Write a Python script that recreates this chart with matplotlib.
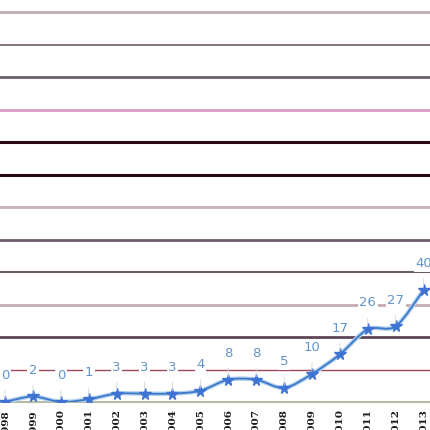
import numpy as np
import matplotlib
matplotlib.use("Agg")
import matplotlib.pyplot as plt
from matplotlib.path import Path
from matplotlib.patches import PathPatch

years = [1998, 1999, 2000, 2001, 2002, 2003, 2004, 2005,
         2006, 2007, 2008, 2009, 2010, 2011, 2012, 2013]
counts = [0, 2, 0, 1, 3, 3, 3, 4, 8, 8, 5, 10, 17, 26, 27, 40]

grid_step = 11.6
grid_colors = ["#9a4a5a", "#5e4658", "#c4acb4", "#6c5c6c", "#6c5c6c", "#c8b0b8",
               "#2a0818", "#2a0818", "#d89cc4", "#6c6070", "#6a5a64", "#c0aab4"]
grid_widths = [1.0, 2.0, 2.0, 1.5, 2.0, 2.0, 2.2, 2.2, 2.0, 2.0, 1.2, 2.0]

fig = plt.figure(figsize=(4.3, 4.3), dpi=100)
ax = fig.add_axes([0, 0.0651, 1, 0.9349])
ax.set_xlim(1997.82, 2013.23)
ax.set_ylim(0, 143.6)

for i, (c, w) in enumerate(zip(grid_colors, grid_widths)):
    ax.axhline(grid_step * (i + 1), color=c, lw=w, zorder=1)

# smoothed line (bezier through the points, like the office chart)
x = np.array(years, dtype=float)
y = np.array(counts, dtype=float)
verts = [(x[0], y[0])]
codes = [Path.MOVETO]
t = 1 / 7
for i in range(len(x) - 1):
    p0 = (x[max(i - 1, 0)], y[max(i - 1, 0)])
    p1 = (x[i], y[i])
    p2 = (x[i + 1], y[i + 1])
    p3 = (x[min(i + 2, len(x) - 1)], y[min(i + 2, len(x) - 1)])
    c1 = (p1[0] + (p2[0] - p0[0]) * t, p1[1] + (p2[1] - p0[1]) * t)
    c2 = (p2[0] - (p3[0] - p1[0]) * t, p2[1] - (p3[1] - p1[1]) * t)
    verts += [c1, c2, p2]
    codes += [Path.CURVE4] * 3
path = Path(verts, codes)
ax.add_patch(PathPatch(path, fc="none", ec="#b4d0f0", lw=3.2, zorder=3))
ax.add_patch(PathPatch(path, fc="none", ec="#3a78c8", lw=1.3, zorder=4))
ax.plot(years, counts, ls="none", marker="*", ms=8.5, color="#3f74d4",
        mec="#3f74d4", zorder=5)

for xv, yv in zip(years, counts):
    ax.annotate(str(yv), (xv, yv), xytext=(0, 19), textcoords="offset points",
                ha="center", va="center", fontsize=9.5, color="#6494c8",
                bbox=dict(boxstyle="square,pad=0.12", fc="white", ec="none"),
                arrowprops=dict(arrowstyle="-", color="#d4d4d4", lw=0.6,
                                shrinkA=5, shrinkB=2),
                zorder=6)

ax.set_xticks(years)
ax.set_xticklabels([str(v) for v in years], rotation=90, fontsize=7.5,
                   fontweight="bold", family="DejaVu Serif", color="#1a1a1a",
                   va="top")
ax.tick_params(axis="x", length=0, pad=5)
ax.set_yticks([])
for s in ["top", "left", "right"]:
    ax.spines[s].set_visible(False)
ax.spines["bottom"].set_color("#b4bca4")
ax.spines["bottom"].set_linewidth(1.5)

fig.savefig("out.png", dpi=100)
